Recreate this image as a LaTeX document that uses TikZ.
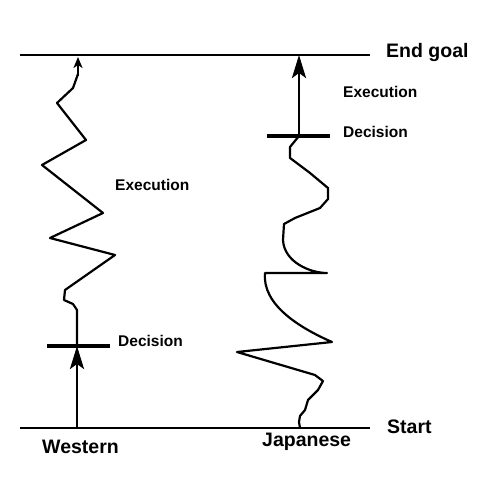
\documentclass[tikz,border=0pt]{standalone}
\usepackage{fontspec}
\setmainfont{Liberation Sans}
\usetikzlibrary{arrows.meta}
\tikzset{
  guide/.style={line width=1.4pt},
  wiggle/.style={line width=2.2pt, line join=round, line cap=round},
  bar/.style={line width=3.2pt},
  bigarrow/.style={line width=2.6pt, -{Stealth[length=23pt, width=14pt, inset=5pt]}},
  smallarrow/.style={line width=2.2pt, -{Stealth[length=11pt, width=9pt, inset=3pt]}},
  big/.style={font=\fontsize{19.5}{22}\selectfont\bfseries, inner sep=0pt, anchor=base west},
  small/.style={font=\fontsize{15.5}{18}\selectfont\bfseries, inner sep=0pt, anchor=base west},
}
\begin{document}
\begin{tikzpicture}[x=1pt,y=-1pt]
\useasboundingbox (0,0) rectangle (500,500);
% guide lines
\coordinate (topL) at (20,55);
\coordinate (topR) at (370,55);
\coordinate (botL) at (20,428);
\coordinate (botR) at (370,428);
\draw[guide] (topL) -- (topR);
\draw[guide] (botL) -- (botR);
\node[big] (endgoal) at (386,58) {End goal};
\node[big] (start) at (387,433) {Start};
\node[big] (western) at (42,453) {Western};
\node[big] (japanese) at (262,446) {Japanese};
% Western
\coordinate (wS) at (77,428);
\coordinate (wD) at (77,346);
\coordinate (wDL) at (47,346);
\coordinate (wDR) at (110,346);
\draw[bigarrow] (wS) -- (wD);
\draw[bar] (wDL) -- (wDR);
\node[small] (wdec) at (118,346) {Decision};
\node[small] (wexe) at (115,190) {Execution};
\coordinate (wTop) at (78,57);
\draw[wiggle] (wD) -- (77,310) -- (73,304) -- (64,300) -- (65,290) -- (115,255) -- (50,238) -- (103,213) -- (42,165) -- (86,140) -- (57,103) -- (73,88) -- (78,74);
\draw[smallarrow] (78,76) -- (wTop);
% Japanese
\coordinate (jD) at (299,136);
\coordinate (jDL) at (267,136);
\coordinate (jDR) at (330,136);
\coordinate (jTop) at (299,55);
\draw[bigarrow] (jD) -- (jTop);
\draw[bar] (jDL) -- (jDR);
\node[small] (jdec) at (343,137) {Decision};
\node[small] (jexe) at (343,98) {Execution};
\coordinate (jS) at (300,428);
\draw[wiggle] (jD) -- (290,147) -- (290,158) -- (310,173) -- (328,188) -- (328,199) -- (320,208) -- (295,218) -- (284,224) -- (283,240)
  .. controls (284,262) and (310,273) .. (327,273)
  -- (265,273) .. controls (262,305) and (300,328) .. (332,342)
  -- (237,352) -- (315,375) -- (323,381) -- (318,390) -- (308,400) -- (305,410) -- (300,416) -- (299,422) -- (jS);
\end{tikzpicture}
\end{document}
